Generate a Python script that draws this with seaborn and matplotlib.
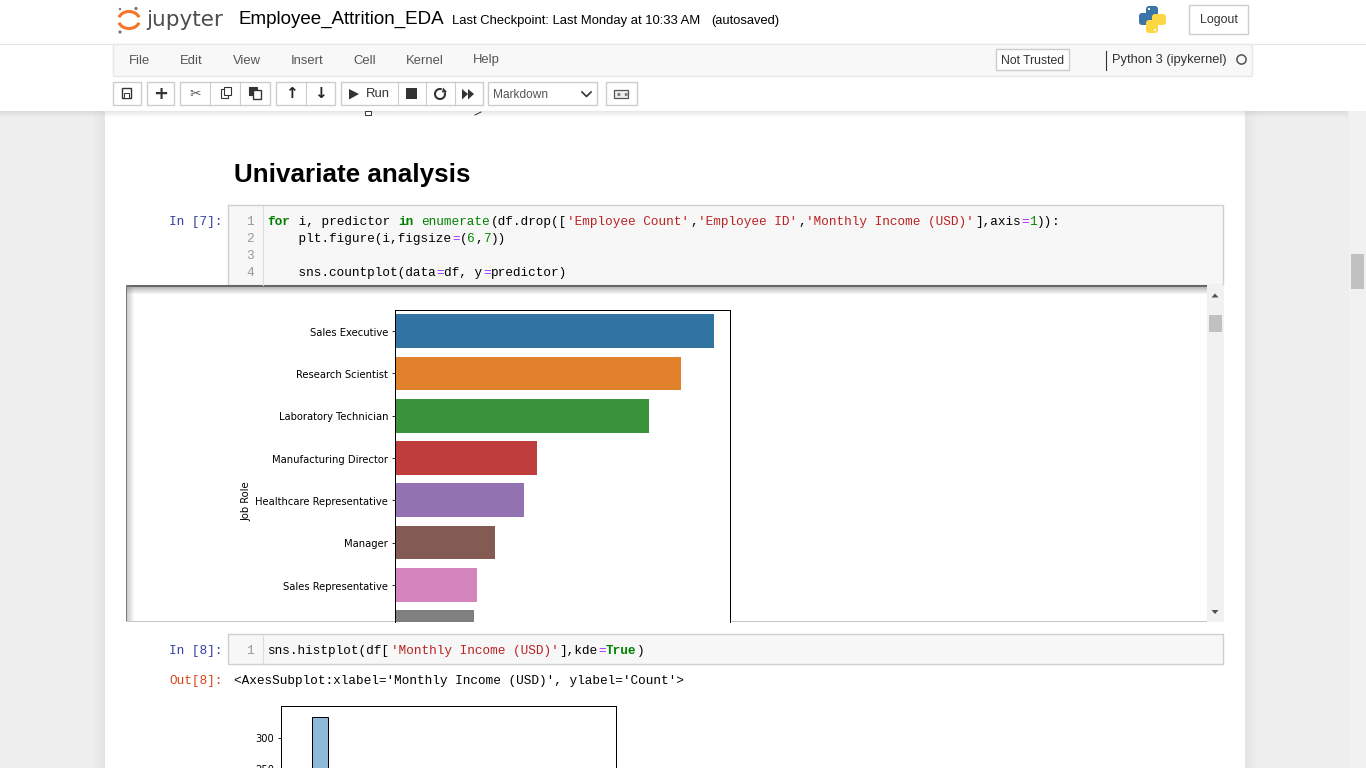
import matplotlib
matplotlib.use('Agg')
import matplotlib.pyplot as plt
from matplotlib.patches import Rectangle, FancyBboxPatch, Circle, Arc, Polygon
from matplotlib.transforms import ScaledTranslation
import pandas as pd
import seaborn as sns

job_roles = ['Sales Executive', 'Research Scientist', 'Laboratory Technician',
             'Manufacturing Director', 'Healthcare Representative', 'Manager',
             'Sales Representative', 'Research Director']
role_counts = [326, 292, 259, 145, 131, 102, 83, 80]

income_bin_left = [1944]
income_bin_right = [2947]
income_counts = [334]
income_ticks = [0, 50, 100, 150, 200, 250, 300]

UI = 'Liberation Sans'
MONO = 'Liberation Mono'
W, H = 1366, 768
CHAR = 7.69

plt.rcParams['font.family'] = ['DejaVu Sans']
fig = plt.figure(figsize=(13.66, 7.68), dpi=100)
page = fig.add_axes([0, 0, 1, 1], zorder=0)
page.set_xlim(0, W)
page.set_ylim(H, 0)
page.axis('off')


def box(x0, y0, x1, y1, fc='white', ec='none', lw=0.72, z=1, a=None):
    page.add_patch(Rectangle((x0 - 0.7, y0 - 0.7), x1 - x0, y1 - y0, fc=fc, ec=ec, lw=lw, zorder=z, alpha=a))


def txt(x, y, s, size=9.4, color='#333333', font=UI, ha='left', **kw):
    page.text(x, y + 1.5, s, fontsize=size, color=color, family=font, ha=ha, va='center', zorder=6, **kw)


def code(x, y, tokens):
    # each token goes at a fixed character offset
    n = 0
    for s, c, bold in tokens:
        page.text(x + n * CHAR, y + 1.6, s, fontsize=9.23, color=c, family=MONO, va='center', zorder=6,
                  fontweight='bold' if bold else 'normal')
        n += len(s)


def tri(pts, c='#333333'):
    page.add_patch(Polygon(pts, closed=True, fc=c, ec='none', zorder=6))


# page and notebook sheet
box(0, 0, W + 1, H + 1, fc='#eeeeee', z=0)
for i in range(12):
    box(105.7 - i - 1, 111, 105.7 - i, H + 1, fc='#dddddd', a=0.5 * (1 - i / 12), z=0.5)
    box(1245.7 + i, 111, 1245.7 + i + 1, H + 1, fc='#dddddd', a=0.5 * (1 - i / 12), z=0.5)
box(105.7, 111, 1245.7, H + 1, fc='white', z=0.6)
box(1349.7, 111, W + 1, H + 1, fc='#f1f1f1')
box(1351.7, 254.7, 1364.7, 289.7, fc='#c1c1c1')

# header
box(0, 0, W + 1, 111.7, fc='white', z=3)
for i in range(6):
    box(0, 111.7 + i, 1349, 112.7 + i, fc='#bbbbbb', a=0.35 * (1 - i / 6), z=3)
page.plot([0, W], [44, 44], color='#e7e7e7', lw=0.8, zorder=4)
page.add_patch(Arc((129, 20), 21, 17, theta1=195, theta2=345, color='#f37726', lw=2.2, zorder=6))
page.add_patch(Arc((129, 20), 21, 17, theta1=15, theta2=165, color='#f37726', lw=2.2, zorder=6))
for cx, cy, r in [(136, 8.5, 1.6), (120, 9, 1.2), (120, 32, 1.6)]:
    page.add_patch(Circle((cx, cy), r, fc='#767677', ec='none', zorder=6))
txt(146, 19, 'jupyter', size=15.5, color='#4e4e4e', font='DejaVu Sans')
txt(238, 18, 'Employee_Attrition_EDA', size=13.5, color='#000000')
txt(452.5, 19.5, 'Last Checkpoint: Last Monday at 10:33 AM', size=9.35, color='#000000')
txt(711, 19.5, '(autosaved)', size=9.3, color='#000000')

# python logo
for xy, wh, c in [((1146, 6), (12, 14), '#3b74a8'), ((1139, 13), (14, 12), '#3b74a8'),
                  ((1146, 20), (12, 13), '#fdd644'), ((1152, 14), (14, 11), '#fdd644')]:
    page.add_patch(FancyBboxPatch(xy, wh[0], wh[1], boxstyle='round,pad=0,rounding_size=3', fc=c, ec='none', zorder=5))
page.add_patch(Circle((1149, 9), 1.1, fc='white', ec='none', zorder=6))
page.add_patch(Circle((1155, 30), 1.1, fc='white', ec='none', zorder=6))
box(1189.7, 6, 1248.2, 35, fc='white', ec='#cccccc', lw=1, z=5)
txt(1218.5, 19, 'Logout', size=8.9, ha='center')

# menu bar
box(113.5, 44.5, 1252.5, 76.5, fc='#f8f8f8', ec='#e7e7e7', lw=1, z=4)
for x, s in [(129, 'File'), (180, 'Edit'), (232.5, 'View'), (290.5, 'Insert'), (353, 'Cell'), (405.5, 'Kernel'), (473, 'Help')]:
    txt(x, 59, s, size=9.4, color='#555555')
box(996.5, 49.5, 1069.5, 71, fc='white', ec='#cccccc', lw=1, z=5)
txt(1033, 59, 'Not Trusted', size=8.8, ha='center')
page.plot([1106, 1106], [51, 70], color='#333333', lw=0.8, zorder=6)
txt(1111.5, 59, 'Python 3 (ipykernel)', size=9.3)
page.add_patch(Circle((1241.5, 59.5), 4.6, fc='none', ec='#555555', lw=1.1, zorder=6))

# toolbar
for x0, x1, divs in [(113.5, 141.5, []), (147.5, 175, []), (180.5, 270.5, [210, 240]),
                     (276.5, 335.5, [306]), (341.5, 483.5, [398, 426, 455]), (606.5, 637.5, [])]:
    box(x0, 82.5, x1, 105.5, fc='white', ec='#cccccc', lw=1, z=5)
    for d in divs:
        page.plot([d, d], [82, 105], color='#cccccc', lw=0.8, zorder=6)
box(488.5, 82.5, 597.5, 105.5, fc='white', ec='#cccccc', lw=1, z=5)
txt(492.5, 93.5, 'Markdown', size=8.6, color='#555555')
page.plot([582, 586.5, 591], [92, 96.5, 92], color='#333333', lw=1.2, zorder=6)

box(123, 89, 132, 99, fc='white', ec='#333333', lw=1, z=6)
box(125, 94, 130, 99, fc='white', ec='#333333', lw=0.7, z=6)
txt(161, 92.5, '+', size=13, color='#333333', font='DejaVu Sans', ha='center', fontweight='bold')
txt(195.5, 93, '✂', size=10, color='#555555', font='DejaVu Sans', ha='center')
box(222, 90, 229, 99, fc='white', ec='#333333', lw=0.8, z=6)
box(225, 88, 232, 96, fc='white', ec='#333333', lw=0.8, z=6)
box(250, 88, 258, 96, fc='#333333', ec='#333333', lw=0.8, z=6)
box(254, 91, 262, 100, fc='white', ec='#333333', lw=1, z=6)
txt(291.5, 92.5, '↑', size=11, color='#222222', font='DejaVu Sans', ha='center', fontweight='bold')
txt(320.5, 92.5, '↓', size=11, color='#222222', font='DejaVu Sans', ha='center', fontweight='bold')
tri([(349, 89), (349, 99.5), (359, 94)])
txt(366, 92.5, 'Run', size=9.4)
box(407, 88.5, 417.5, 99.5, fc='#333333', z=6)
page.add_patch(Arc((440, 94), 10, 10, theta1=-20, theta2=290, color='#333333', lw=1.5, zorder=6))
tri([(443, 87.5), (447, 92), (442, 92.5)])
tri([(462, 89), (462, 99.5), (468, 94)])
tri([(468, 89), (468, 99.5), (474, 94)])
box(615, 90.5, 629, 98.5, fc='#eeeeee', ec='#555555', lw=0.9, z=6)
page.plot([617, 627], [94, 94], color='#777777', lw=2, ls=':', zorder=7)

# leftovers of the previous output under the header
box(366, 112, 372, 115.5, fc='white', ec='#333333', lw=0.7, z=4)
page.plot([475, 481], [115, 112], color='#333333', lw=0.7, zorder=4)

txt(234, 173.5, 'Univariate analysis', size=18.7, color='#000000', fontweight='bold')

# input cell 7
box(228.5, 205.5, 1223.5, 285.5, fc='#f7f7f7', ec='#cfcfcf', lw=1, z=2)
page.plot([262.5, 262.5], [206, 285], color='#dddddd', lw=0.8, zorder=3)
txt(222.5, 220.5, 'In [7]:', size=9.23, color='#303f9f', font=MONO, ha='right')
for n, y in zip('1234', [220.5, 237.5, 254.5, 271.5]):
    txt(254, y, n, size=9.23, color='#999999', font=MONO, ha='right')

K, B, S, O, N, D = '#008000', '#008000', '#ba2121', '#aa22ff', '#008800', '#000000'
code(267.5, 220.5, [('for', K, True), (' i, predictor ', D, False), ('in', K, True), (' ', D, False),
                    ('enumerate', B, False), ('(df.drop([', D, False), ("'Employee Count'", S, False), (',', D, False),
                    ("'Employee ID'", S, False), (',', D, False), ("'Monthly Income (USD)'", S, False), ('],axis', D, False),
                    ('=', O, False), ('1', N, False), ('))', D, False), (':', D, False)])
code(267.5, 237.5, [('    plt.figure(i,figsize', D, False), ('=', O, False), ('(', D, False), ('6', N, False), (',', D, False),
                    ('7', N, False), ('))', D, False)])
code(267.5, 271.5, [('    sns.countplot(data', D, False), ('=', O, False), ('df, y', D, False), ('=', O, False), ('predictor)', D, False)])

# scrolled output
box(127, 286, 1224, 622, fc='white', ec='none', z=1)
box(127, 286, 1208, 288, fc='#666666', z=2)
for i in range(7):
    box(127, 288 + i, 1208, 289 + i, fc='#777777', a=0.5 * (1 - i / 7), z=2)
    box(128 + i, 286, 129 + i, 622, fc='#888888', a=0.4 * (1 - i / 7), z=2)
box(127, 286, 128, 622, fc='#777777', z=2)
box(127, 621.5, 1208, 623, fc='#c4c4c4', z=2)
box(1207.7, 286, 1224.7, 622.7, fc='#f1f1f1', z=3)
box(1209.7, 315.7, 1222.7, 332.7, fc='#c1c1c1', z=4)
tri([(1211.5, 297.5), (1218.5, 297.5), (1215, 293.5)], '#505050')
tri([(1211.5, 610), (1218.5, 610), (1215, 614)], '#505050')

# input cell 8
box(228.5, 634.5, 1223.5, 664.5, fc='#f7f7f7', ec='#cfcfcf', lw=1, z=2)
page.plot([262.5, 262.5], [635, 664], color='#dddddd', lw=0.8, zorder=3)
txt(222.5, 649.5, 'In [8]:', size=9.23, color='#303f9f', font=MONO, ha='right')
txt(254, 649.5, '1', size=9.23, color='#999999', font=MONO, ha='right')
code(267.5, 649.5, [('sns.histplot(df[', D, False), ("'Monthly Income (USD)'", S, False), ('],kde', D, False),
                    ('=', O, False), ('True', K, True), (')', D, False)])
txt(222.5, 679.5, 'Out[8]:', size=9.23, color='#d84315', font=MONO, ha='right')
code(234, 679.5, [("<AxesSubplot:xlabel='Monthly Income (USD)', ylabel='Count'>", D, False)])


def chart_axes(left, top, right, bottom):
    ax = fig.add_axes([left / W, 1 - bottom / H, (right - left) / W, (bottom - top) / H], zorder=2)
    ax.tick_params(labelsize=7.2, length=2.5, width=0.58, pad=2.5)
    for sp in ax.spines.values():
        sp.set_linewidth(0.72)
    return ax


# Job Role countplot, cut off by the output scroll box
roles_df = pd.DataFrame({'Job Role': job_roles, 'count': role_counts})
ax1 = chart_axes(395.3, 310, 730.3, 622)
sns.barplot(data=roles_df, x='count', y='Job Role', hue='Job Role', palette='tab10',
            legend=False, ax=ax1)
ax1.set_xlim(0, 342.3)
ax1.set_ylim(6.88, -0.5)
ax1.spines['bottom'].set_visible(False)
ax1.set_xticks([])
ax1.set_xlabel('')
ax1.set_ylabel('Job Role', fontsize=7.2)
ax1.yaxis.set_label_coords((252 - 395.3) / 335, 1 - (501.5 - 310) / 312)
# tick labels sit about a pixel lower than matplotlib centres them
nudge = ScaledTranslation(0, -0.8 / 100, fig.dpi_scale_trans)
for lab in ax1.get_yticklabels():
    lab.set_transform(lab.get_transform() + nudge)

# Monthly income histogram, runs off the bottom of the screen
ax2 = chart_axes(281, 706, 616, 924)
sns.histplot(x=income_bin_left, weights=income_counts, bins=[income_bin_left[0], income_bin_right[0]],
             alpha=0.5, edgecolor='black', linewidth=0.72, ax=ax2)
ax2.set_xlim(0, 21000)
ax2.set_ylim(0, 351.6)
ax2.set_yticks(income_ticks)
ax2.set_xticks([])
ax2.set_ylabel('')

fig.savefig('out.png', dpi=100)
